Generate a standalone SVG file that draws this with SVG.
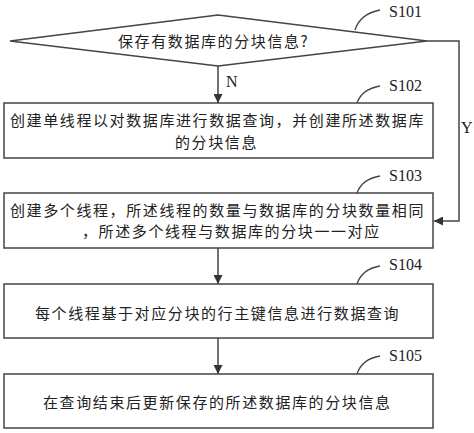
<svg xmlns="http://www.w3.org/2000/svg" width="474" height="433" viewBox="0 0 474 433">
<defs>
<marker id="arr" viewBox="0 0 10 10" refX="10" refY="5" markerWidth="9" markerHeight="9" markerUnits="userSpaceOnUse" orient="auto">
<path d="M0,0 L10,5 L0,10 z" fill="#333"/>
</marker>
</defs>
<style>
.shape{fill:#fff;stroke:#444;stroke-width:1.5}
.cn{font-family:"Noto Sans CJK SC","Noto Sans CJK JP",sans-serif;font-size:15px;letter-spacing:1.6px;fill:#222}
.lbl{font-family:"Liberation Serif",serif;font-size:16px;fill:#222}
.conn{fill:none;stroke:#444;stroke-width:1.5}
.tick{fill:none;stroke:#444;stroke-width:1.3}
</style>
<rect width="474" height="433" fill="#fff"/>
<g id="connectors">
<path class="conn" d="M218,66 V103" marker-end="url(#arr)"/>
<path class="conn" d="M427,41 H459 V221 H434" marker-end="url(#arr)"/>
<path class="conn" d="M218,248 V284" marker-end="url(#arr)"/>
<path class="conn" d="M218,338 V374" marker-end="url(#arr)"/>
<text class="lbl" x="226" y="87">N</text>
<text class="lbl" x="461" y="133">Y</text>
</g>
<g id="S101">
<polygon class="shape" points="10,41 218,15 427,41 218,66"/>
<text class="cn" x="118" y="47">保存有数据库的分块信息?</text>
<path class="tick" d="M355,30 Q360,14 380,10"/>
<text class="lbl" x="389" y="17">S101</text>
</g>
<g id="S102">
<rect class="shape" x="4" y="103" width="429" height="55"/>
<text class="cn" x="10" y="125.5">创建单线程以对数据库进行数据查询，并创建所述数据库</text>
<text class="cn" x="175" y="148">的分块信息</text>
<path class="tick" d="M357,103 Q362,89 380,86"/>
<text class="lbl" x="389" y="91">S102</text>
</g>
<g id="S103">
<rect class="shape" x="4" y="193" width="429" height="55"/>
<text class="cn" x="10" y="215.5">创建多个线程，所述线程的数量与数据库的分块数量相同</text>
<text class="cn" x="82" y="236.5">，所述多个线程与数据库的分块一一对应</text>
<path class="tick" d="M357,193 Q362,179 380,176"/>
<text class="lbl" x="389" y="181">S103</text>
</g>
<g id="S104">
<rect class="shape" x="4" y="284" width="429" height="54"/>
<text class="cn" x="35" y="318.5">每个线程基于对应分块的行主键信息进行数据查询</text>
<path class="tick" d="M357,284 Q362,269 380,266"/>
<text class="lbl" x="389" y="270">S104</text>
</g>
<g id="S105">
<rect class="shape" x="4" y="374" width="429" height="54"/>
<text class="cn" x="43" y="407.5">在查询结束后更新保存的所述数据库的分块信息</text>
<path class="tick" d="M357,374 Q362,359 380,356"/>
<text class="lbl" x="389" y="361">S105</text>
</g>
</svg>
